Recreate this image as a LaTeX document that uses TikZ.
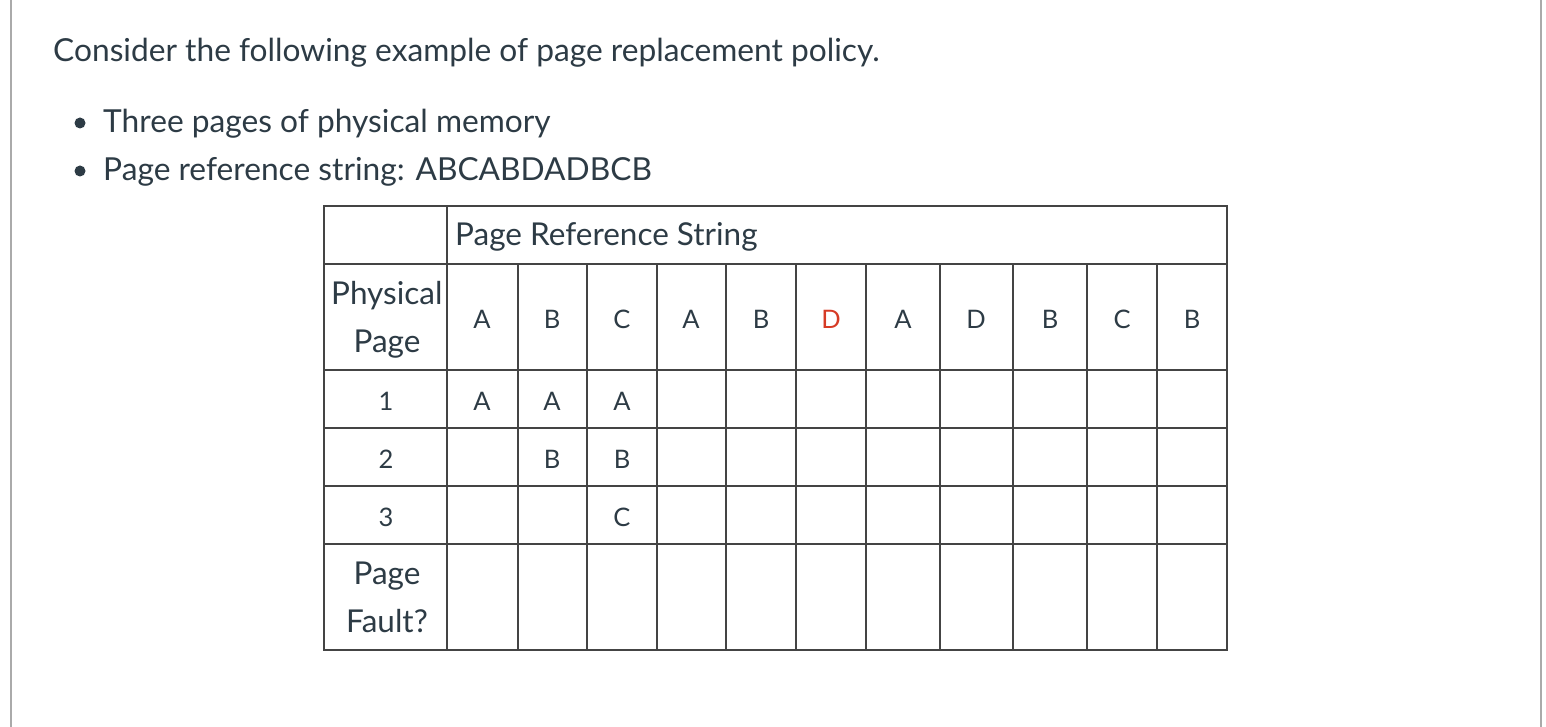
\documentclass[tikz,border=0pt]{standalone}
\usepackage{fontspec}
\setmainfont{Lato}
\definecolor{txt}{HTML}{2D3B45}
\definecolor{frame}{HTML}{AAAAAA}
\definecolor{grid}{HTML}{444444}
\definecolor{red}{HTML}{D63B26}
\begin{document}
\begin{tikzpicture}[x=1pt,y=-1pt,
  big/.style={font=\fontsize{31.7}{36}\selectfont,text=txt,inner sep=0},
  word/.style={font=\fontsize{31.5}{36}\selectfont,text=txt,inner sep=0},
  cell/.style={font=\fontsize{25.5}{29}\selectfont,text=txt,inner sep=0}]
\useasboundingbox (0,0) rectangle (1546,727);
\draw[frame,line width=2.5] (11,0) -- (11,727) (1541,0) -- (1541,727);
\node[big,anchor=base west] (title) at (53,62) {Consider the following example of page replacement policy.};
\fill[txt] (80,123) circle (5.5);
\fill[txt] (80,171) circle (5.5);
\node[big,anchor=base west] (b1) at (103,133) {Three pages of physical memory};
\node[big,anchor=base west] (b2) at (103,181) {Page reference string: ABCABDADBCB};
% grid
\begin{scope}[grid,line width=1.3]
\draw (324,206) rectangle (1227,650);
\foreach \y in {264,370,428,486,544} \draw (324,\y) -- (1227,\y);
\draw (447,206) -- (447,650);
\foreach \x in {518,587,657,726,796,866,940,1013,1087,1157} \draw (\x,264) -- (\x,650);
\end{scope}
\node[word,anchor=base west] (hdr) at (455,246) {Page Reference String};
\node[word,anchor=base west] (ph1) at (331,304) {Physical};
\node[word,anchor=base] (ph2) at (387,352) {Page};
\node[cell] (r1) at (386,401) {1};
\node[cell] (r2) at (386,459) {2};
\node[cell] (r3) at (386,517) {3};
\node[word,anchor=base] (pf1) at (387,584) {Page};
\node[word,anchor=base] (pf2) at (387,632) {Fault?};
\foreach \c/\t [count=\i] in {482/A,552/B,622/C,691/A,761/B,831/\textcolor{red}{D},903/A,976/D,1050/B,1122/C,1192/B}
  \node[cell] (h\i) at (\c,319) {\t};
\node[cell] at (482,401) (a11) {A};
\node[cell] at (552,401) (a12) {A};
\node[cell] at (622,401) (a13) {A};
\node[cell] at (552,459) (a22) {B};
\node[cell] at (622,459) (a23) {B};
\node[cell] at (622,517) (a33) {C};
\end{tikzpicture}
\end{document}
